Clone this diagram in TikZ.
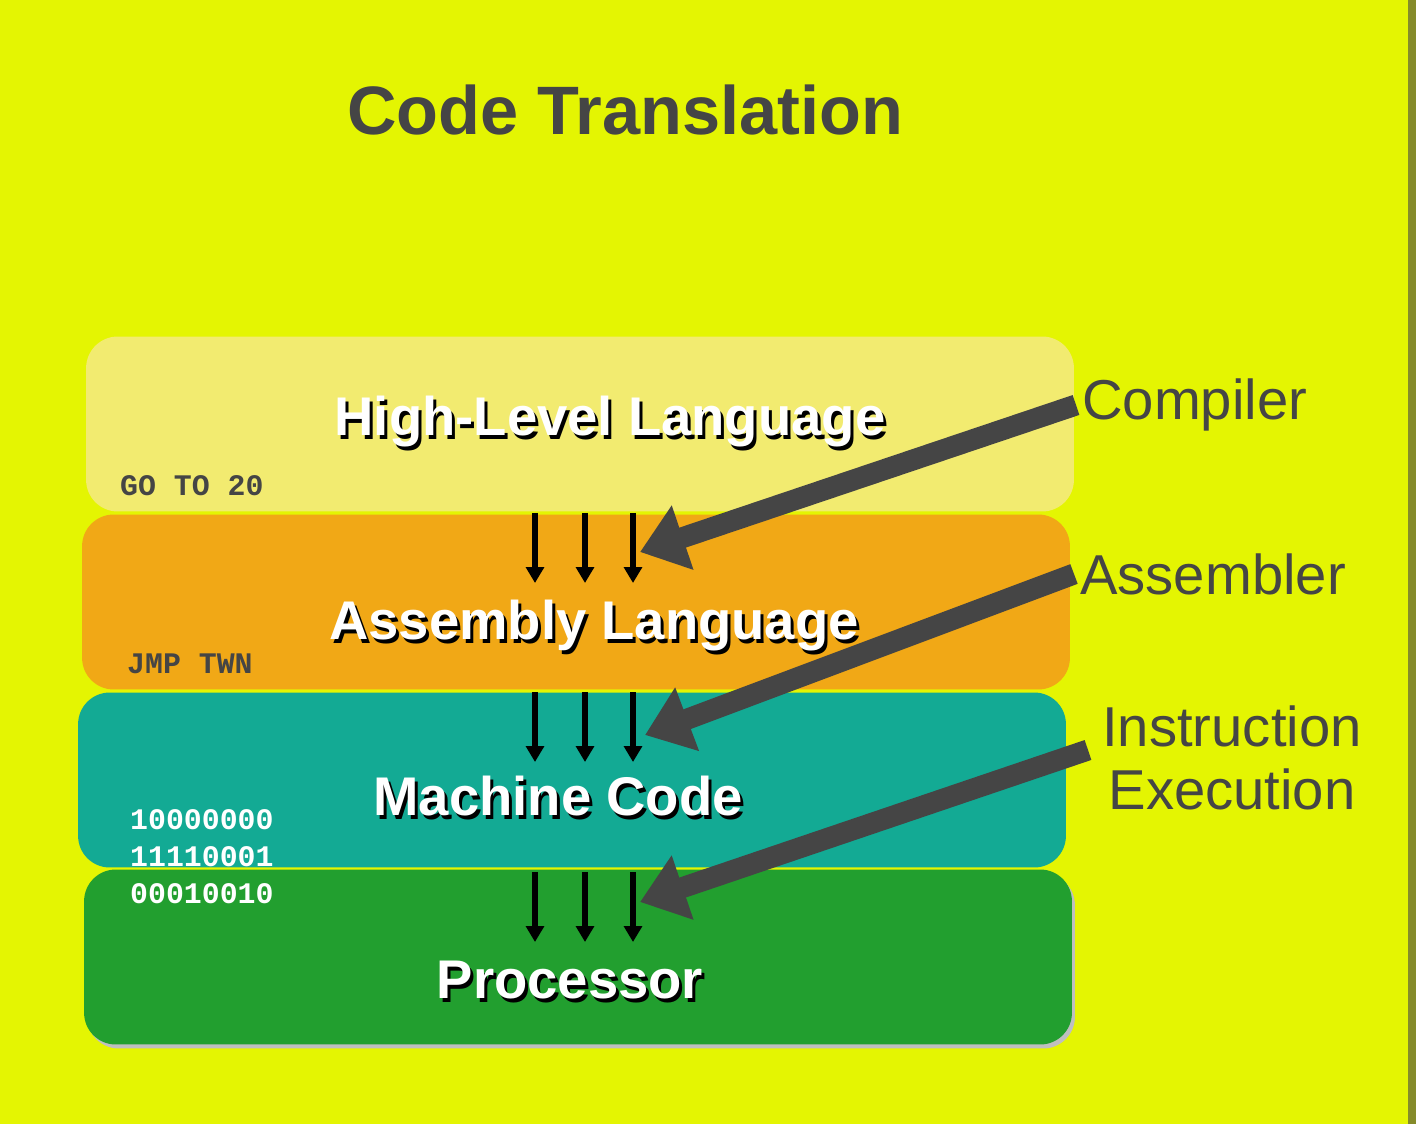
\documentclass[tikz,border=0pt]{standalone}
\usepackage{fontspec}
\setmainfont{Liberation Sans}
\setmonofont{Liberation Mono}
\usepackage{xcolor}
\definecolor{fond}{HTML}{E4F502}
\definecolor{haut}{HTML}{F2EB70}
\definecolor{assem}{HTML}{F1A816}
\definecolor{machine}{HTML}{13AA94}
\definecolor{proc}{HTML}{229F2F}
\definecolor{gris}{HTML}{454545}
\usetikzlibrary{arrows.meta}
\begin{document}
\begin{tikzpicture}[x=0.02cm, y=-0.02cm,
    couche/.style={shape=rectangle, rounded corners=18pt, minimum width=19.76cm, minimum height=3.5cm, inner sep=0pt},
    titre/.style={font=\bfseries\fontsize{31}{31}\selectfont, text=white},
    ombre/.style={font=\bfseries\fontsize{31}{31}\selectfont, text=black},
    petit/.style={font=\ttfamily\bfseries\fontsize{17}{21}\selectfont, align=left, anchor=west},
    cote/.style={font=\fontsize{32}{36}\selectfont, text=gris, align=center},
    fleche/.style={-{Triangle[length=9pt,width=10pt]}, line width=3pt, black},
    grosse/.style={-{Triangle[length=0.9cm,width=1.3cm]}, line width=0.42cm, gris}]
    \fill[fond] (0,0) rectangle (1416,1124);
    \fill[gris!60!fond] (1408,0) rectangle (1416,1124);
    \node[text=gris, font=\bfseries\fontsize{39}{39}\selectfont] (titre) at (625,110) {Code Translation};

    % couches
    \node[couche, fill=black!25] (ombreproc) at (581,961) {};
    \node[couche, fill=proc] (proc) at (578,957) {};
    \node[couche, fill=machine] (mach) at (572,780) {};
    \node[couche, fill=assem] (asm) at (576,602) {};
    \node[couche, fill=haut] (hll) at (580,424) {};

    \foreach \t/\x/\y in {High-Level Language/610/422, Assembly Language/594/626, Machine Code/558/796, Processor/570/980} {
        \node[ombre] at (\x+3,\y+4) {\t};
        \node[titre] at (\x,\y) {\t};
    }

    \node[petit, text=gris] (goto) at (114,486) {GO TO 20};
    \node[petit, text=gris] (jmp) at (121,664) {JMP TWN};
    \node[petit, text=white] (bin) at (124,857) {10000000\\11110001\\00010010};

    % petites fleches
    \foreach \y in {513, 692, 872}
        \foreach \x in {535, 585, 633}
            \draw[fleche] (\x,\y) -- (\x,\y+70);

    % outils
    \node[cote, anchor=west] (comp) at (1076,405) {Compiler};
    \node[cote, anchor=west] (ass) at (1074,574) {Assembler};
    \node[cote] (exec) at (1232,758) {Instruction\\Execution};
    \coordinate (c1) at (640,552);
    \coordinate (c2) at (645,735);
    \coordinate (c3) at (640,902);
    \coordinate (e3) at (1088,750);
    \draw[grosse] (comp.west) -- (c1);
    \draw[grosse] (ass.west) -- (c2);
    \draw[grosse] (e3) -- (c3);
\end{tikzpicture}
\end{document}
